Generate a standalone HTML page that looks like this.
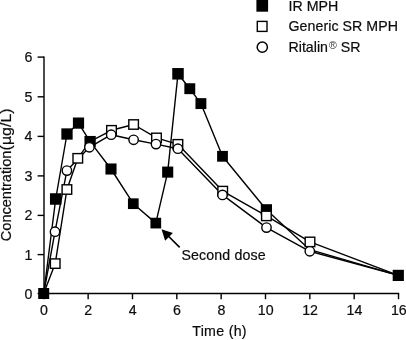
<!DOCTYPE html>
<html lang="en"><head><meta charset="utf-8"><title>Concentration vs time</title>
<style>html,body{margin:0;padding:0;background:#fff}svg{display:block}</style></head>
<body>
<svg width="406" height="340" viewBox="0 0 406 340">
<rect width="406" height="340" fill="#fff"/>
<g font-family="'Liberation Sans', sans-serif" font-size="14.2" fill="#0c0c0c" stroke="#0c0c0c" stroke-width="0.2">
<g stroke="#000" stroke-width="1.4" fill="none">
<path d="M44.0 56.4V294.2"/>
<path d="M43.3 293.5H399.2" stroke-width="1.5"/>
<path d="M37.6 293.5H44.0"/>
<path d="M37.6 254.6H44.0"/>
<path d="M37.6 215.4H44.0"/>
<path d="M37.6 175.9H44.0"/>
<path d="M37.6 136.4H44.0"/>
<path d="M37.6 96.8H44.0"/>
<path d="M37.6 57.1H44.0"/>
<path d="M43.80 293.5V299.2"/>
<path d="M88.14 293.5V299.2"/>
<path d="M132.48 293.5V299.2"/>
<path d="M176.82 293.5V299.2"/>
<path d="M221.16 293.5V299.2"/>
<path d="M265.50 293.5V299.2"/>
<path d="M309.84 293.5V299.2"/>
<path d="M354.18 293.5V299.2"/>
<path d="M398.52 293.5V299.2"/>
</g>
<text x="32.4" y="298.6" text-anchor="end">0</text>
<text x="32.4" y="259.5" text-anchor="end">1</text>
<text x="32.4" y="220.3" text-anchor="end">2</text>
<text x="32.4" y="180.9" text-anchor="end">3</text>
<text x="32.4" y="141.2" text-anchor="end">4</text>
<text x="32.4" y="101.5" text-anchor="end">5</text>
<text x="32.4" y="61.5" text-anchor="end">6</text>
<text x="43.90" y="315.1" text-anchor="middle">0</text>
<text x="88.26" y="315.1" text-anchor="middle">2</text>
<text x="132.62" y="315.1" text-anchor="middle">4</text>
<text x="176.98" y="315.1" text-anchor="middle">6</text>
<text x="221.34" y="315.1" text-anchor="middle">8</text>
<text x="265.70" y="315.1" text-anchor="middle">10</text>
<text x="310.06" y="315.1" text-anchor="middle">12</text>
<text x="354.42" y="315.1" text-anchor="middle">14</text>
<text x="398.78" y="315.1" text-anchor="middle">16</text>
<text x="192.2" y="336.45" letter-spacing="0.3">Time (h)</text>
<text transform="translate(11.3 241.2) rotate(-90) scale(1.04 1)" font-size="14">Concentration</text>
<text transform="translate(11.3 150.4) rotate(-90) scale(1.14 1)" font-size="14">(µg/L)</text>
<g stroke="#000" stroke-width="1.4" fill="none" stroke-linejoin="round">
<polyline points="43.7,293.5 55.7,199.0 67.0,134.0 78.5,123.1 90.1,141.6 111.0,169.0 133.3,203.7 155.8,223.1 167.7,172.1 178.0,73.8 189.8,88.7 200.9,103.6 222.5,156.3 266.4,209.8 309.8,249.7 398.3,275.4"/>
<polyline points="43.7,293.5 55.2,263.6 66.9,189.5 77.8,158.3 89.8,141.6 111.5,130.3 133.6,124.5 156.5,137.9 177.9,144.3 222.7,191.1 266.4,215.9 310.0,241.9 398.3,275.4"/>
<polyline points="43.7,293.5 55.0,231.7 66.9,170.6 89.4,147.3 111.2,134.7 133.6,139.8 156.0,144.1 177.9,148.7 222.5,194.9 266.5,227.6 309.8,251.3 398.3,275.4"/>
</g>
<g fill="#000" stroke="none">
<rect x="49.95" y="193.25" width="11.5" height="11.5"/>
<rect x="61.35" y="128.35" width="11.3" height="11.3"/>
<rect x="72.90" y="117.50" width="11.2" height="11.2"/>
<rect x="84.45" y="135.95" width="11.3" height="11.3"/>
<rect x="105.45" y="163.45" width="11.1" height="11.1"/>
<rect x="127.95" y="198.35" width="10.7" height="10.7"/>
<rect x="150.45" y="217.75" width="10.7" height="10.7"/>
<rect x="162.15" y="166.55" width="11.1" height="11.1"/>
<rect x="172.25" y="68.05" width="11.5" height="11.5"/>
<rect x="184.35" y="83.25" width="10.9" height="10.9"/>
<rect x="195.45" y="98.15" width="10.9" height="10.9"/>
<rect x="217.10" y="150.90" width="10.8" height="10.8"/>
<rect x="260.80" y="204.20" width="11.2" height="11.2"/>
</g>
<g fill="#fff" stroke="#000" stroke-width="1.4">
<rect x="50.4" y="258.9" width="9.6" height="9.4"/>
<rect x="62.1" y="184.8" width="9.6" height="9.4"/>
<rect x="73.0" y="153.6" width="9.6" height="9.4"/>
<rect x="106.7" y="125.6" width="9.6" height="9.4"/>
<rect x="128.8" y="119.8" width="9.6" height="9.4"/>
<rect x="151.7" y="133.2" width="9.6" height="9.4"/>
<rect x="173.1" y="139.6" width="9.6" height="9.4"/>
<rect x="217.9" y="186.4" width="9.6" height="9.4"/>
<rect x="261.6" y="211.2" width="9.6" height="9.4"/>
<rect x="305.2" y="237.2" width="9.6" height="9.4"/>
<circle cx="55.0" cy="231.7" r="4.7"/>
<circle cx="66.9" cy="170.6" r="4.7"/>
<circle cx="89.4" cy="147.3" r="4.7"/>
<circle cx="111.2" cy="134.7" r="4.7"/>
<circle cx="133.6" cy="139.8" r="4.7"/>
<circle cx="156.0" cy="144.1" r="4.7"/>
<circle cx="177.9" cy="148.7" r="4.7"/>
<circle cx="222.5" cy="194.9" r="4.7"/>
<circle cx="266.5" cy="227.6" r="4.7"/>
<circle cx="309.8" cy="251.3" r="4.7"/>
</g>
<g fill="#000" stroke="none">
<rect x="38.20" y="288.00" width="11.0" height="11.0"/>
<rect x="392.70" y="269.80" width="11.2" height="11.2"/>
</g>
<path d="M179.7 247.4L166 233.8" stroke="#000" stroke-width="1.6" fill="none"/>
<path d="M161.5 229.3L172.9 233.1L165.1 240.7Z" fill="#000" stroke="none"/>
<text x="181.5" y="259.9" letter-spacing="0.12">Second dose</text>
<rect x="256.4" y="0" width="11.7" height="11.7" fill="#000" stroke="none"/>
<rect x="257.3" y="21.4" width="9.7" height="10.0" fill="#fff" stroke="#000" stroke-width="1.4"/>
<circle cx="262.3" cy="47.15" r="5.1" fill="#fff" stroke="#000" stroke-width="1.5"/>
<text x="288.5" y="10.8">IR MPH</text>
<text x="288.5" y="31.3" letter-spacing="0.05">Generic SR MPH</text>
<text x="288.5" y="52.2">Ritalin<tspan font-size="11" dx="0.8" dy="-2.8" fill="#3a3a3a" stroke="none">®</tspan><tspan dy="2.8"> SR</tspan></text>
</g></svg>
</body></html>
